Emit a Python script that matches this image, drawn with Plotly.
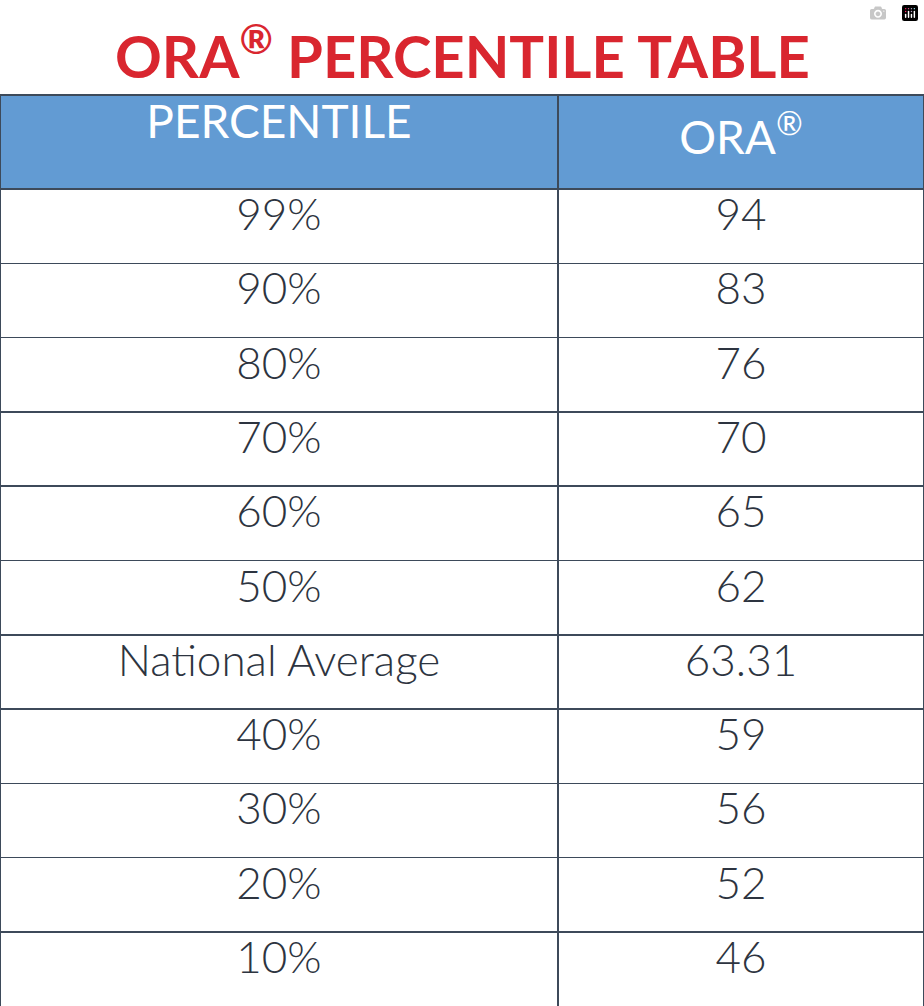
import plotly.graph_objects as go

percentiles = ["99%", "90%", "80%", "70%", "60%", "50%", "National Average", "40%", "30%", "20%", "10%"]
ora_values = ["94", "83", "76", "70", "65", "62", "63.31", "59", "56", "52", "46"]
headers = ["PERCENTILE", "ORA<sup>®</sup>"]

W, H = 924, 1006
fig = go.Figure(go.Table(
    domain=dict(x=[0, 1], y=[0, 911/H]),
    columnwidth=[558, 366],
    header=dict(values=headers, fill_color="#629bd3", height=94,
                font=dict(family="Lato", size=46, color="white", weight=400),
                align="center", line=dict(color="#3d4a5a", width=1.5)),
    cells=dict(values=[percentiles, ora_values], fill_color="white", height=74.3,
               font=dict(family="Lato", size=44, color="#2d3440", weight=300),
               align="center", line=dict(color="#3d4a5a", width=1.5)),
))
fig.add_annotation(text="ORA<sup>®</sup> PERCENTILE TABLE", x=0.5, y=1-12/H,
                   xref="paper", yref="paper", yanchor="top", showarrow=False,
                   font=dict(family="Lato", size=58, color="#d9262f", weight=700))
fig.update_layout(width=W, height=H, margin=dict(l=0, r=0, t=0, b=0),
                  paper_bgcolor="white")
fig.write_html("out.html", post_script="document.body.style.margin='0';")
